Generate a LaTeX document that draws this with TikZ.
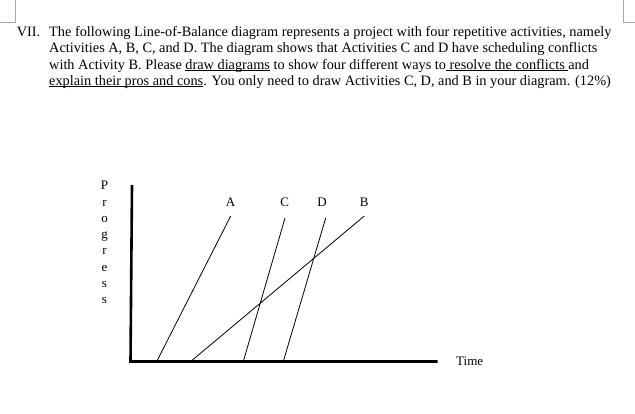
\documentclass[tikz,border=0pt]{standalone}
\usepackage{fontspec}
\setmainfont{Liberation Serif}
\usetikzlibrary{positioning}
\definecolor{cornergray}{RGB}{168,168,168}
\newcommand\ulword[1]{\underline{\smash{#1}}}

\begin{document}
\begin{tikzpicture}[x=1pt,y=-1pt,line join=miter]
  \tikzstyle{para}=[anchor=base west,inner sep=0pt,font=\fontsize{14.3}{16.2}\selectfont]
  \tikzstyle{actlabel}=[anchor=base,inner sep=0pt,font=\fontsize{13}{15}\selectfont]
  \tikzstyle{axis}=[line width=2.6pt]
  \tikzstyle{activity}=[line width=0.8pt]
  \tikzstyle{corner}=[draw=cornergray,line width=0.8pt]

  \useasboundingbox (0,0) rectangle (635,414);

  % page corners
  \draw[corner] (15.7,0) -- (15.7,22.3) -- (0,22.3);
  \draw[corner] (623.3,0) -- (623.3,22.3) -- (635,22.3);

  % question
  \node[para] (num) at (16.7,36.7) {VII.};
  \node[para] (l1)  at (49,36.7) {The following Line-of-Balance diagram represents a project with four repetitive activities, namely};
  \node[para] (l2)  at (49,52.9) {Activities A, B, C, and D. The diagram shows that Activities C and D have scheduling conflicts};
  \node[para] (l3)  at (49,69.1) {with Activity B. Please \ulword{draw diagrams} to show four different ways to\ulword{\ resolve the conflicts\ }and};
  \node[para] (l4)  at (49,85.3) {\ulword{explain their pros and cons}. You only need to draw Activities C, D, and B in your diagram. (12\%)};

  % axes
  \coordinate (O)    at (130.5,361.5);
  \coordinate (ytop) at (132,185);
  \coordinate (xend) at (437.7,361.5);
  \draw[axis] (ytop) -- (O) -- (xend);

  \node[align=center,anchor=north,inner sep=0pt,font=\fontsize{13}{16.3}\selectfont]
    (prog) at (104.5,181) {P\\r\\o\\g\\r\\e\\s\\s};
  \node[actlabel] (time) at (469.7,365.5) {Time};

  % activities
  \coordinate (a0) at (156.7,361.5);
  \coordinate (a1) at (230.7,216);
  \coordinate (b0) at (190.7,361.5);
  \coordinate (b1) at (364.3,216);
  \coordinate (c0) at (243.3,361.5);
  \coordinate (c1) at (285,218);
  \coordinate (d0) at (283.3,361.5);
  \coordinate (d1) at (325.7,218);

  \draw[activity] (a0) -- (a1)
                  (b0) -- (b1)
                  (c0) -- (c1)
                  (d0) -- (d1);

  \node[actlabel] (A) at (230.5,206.7) {A};
  \node[actlabel] (C) at (284.8,206.7) {C};
  \node[actlabel] (D) at (322,206.7) {D};
  \node[actlabel] (B) at (364.3,206.7) {B};
\end{tikzpicture}
\end{document}
